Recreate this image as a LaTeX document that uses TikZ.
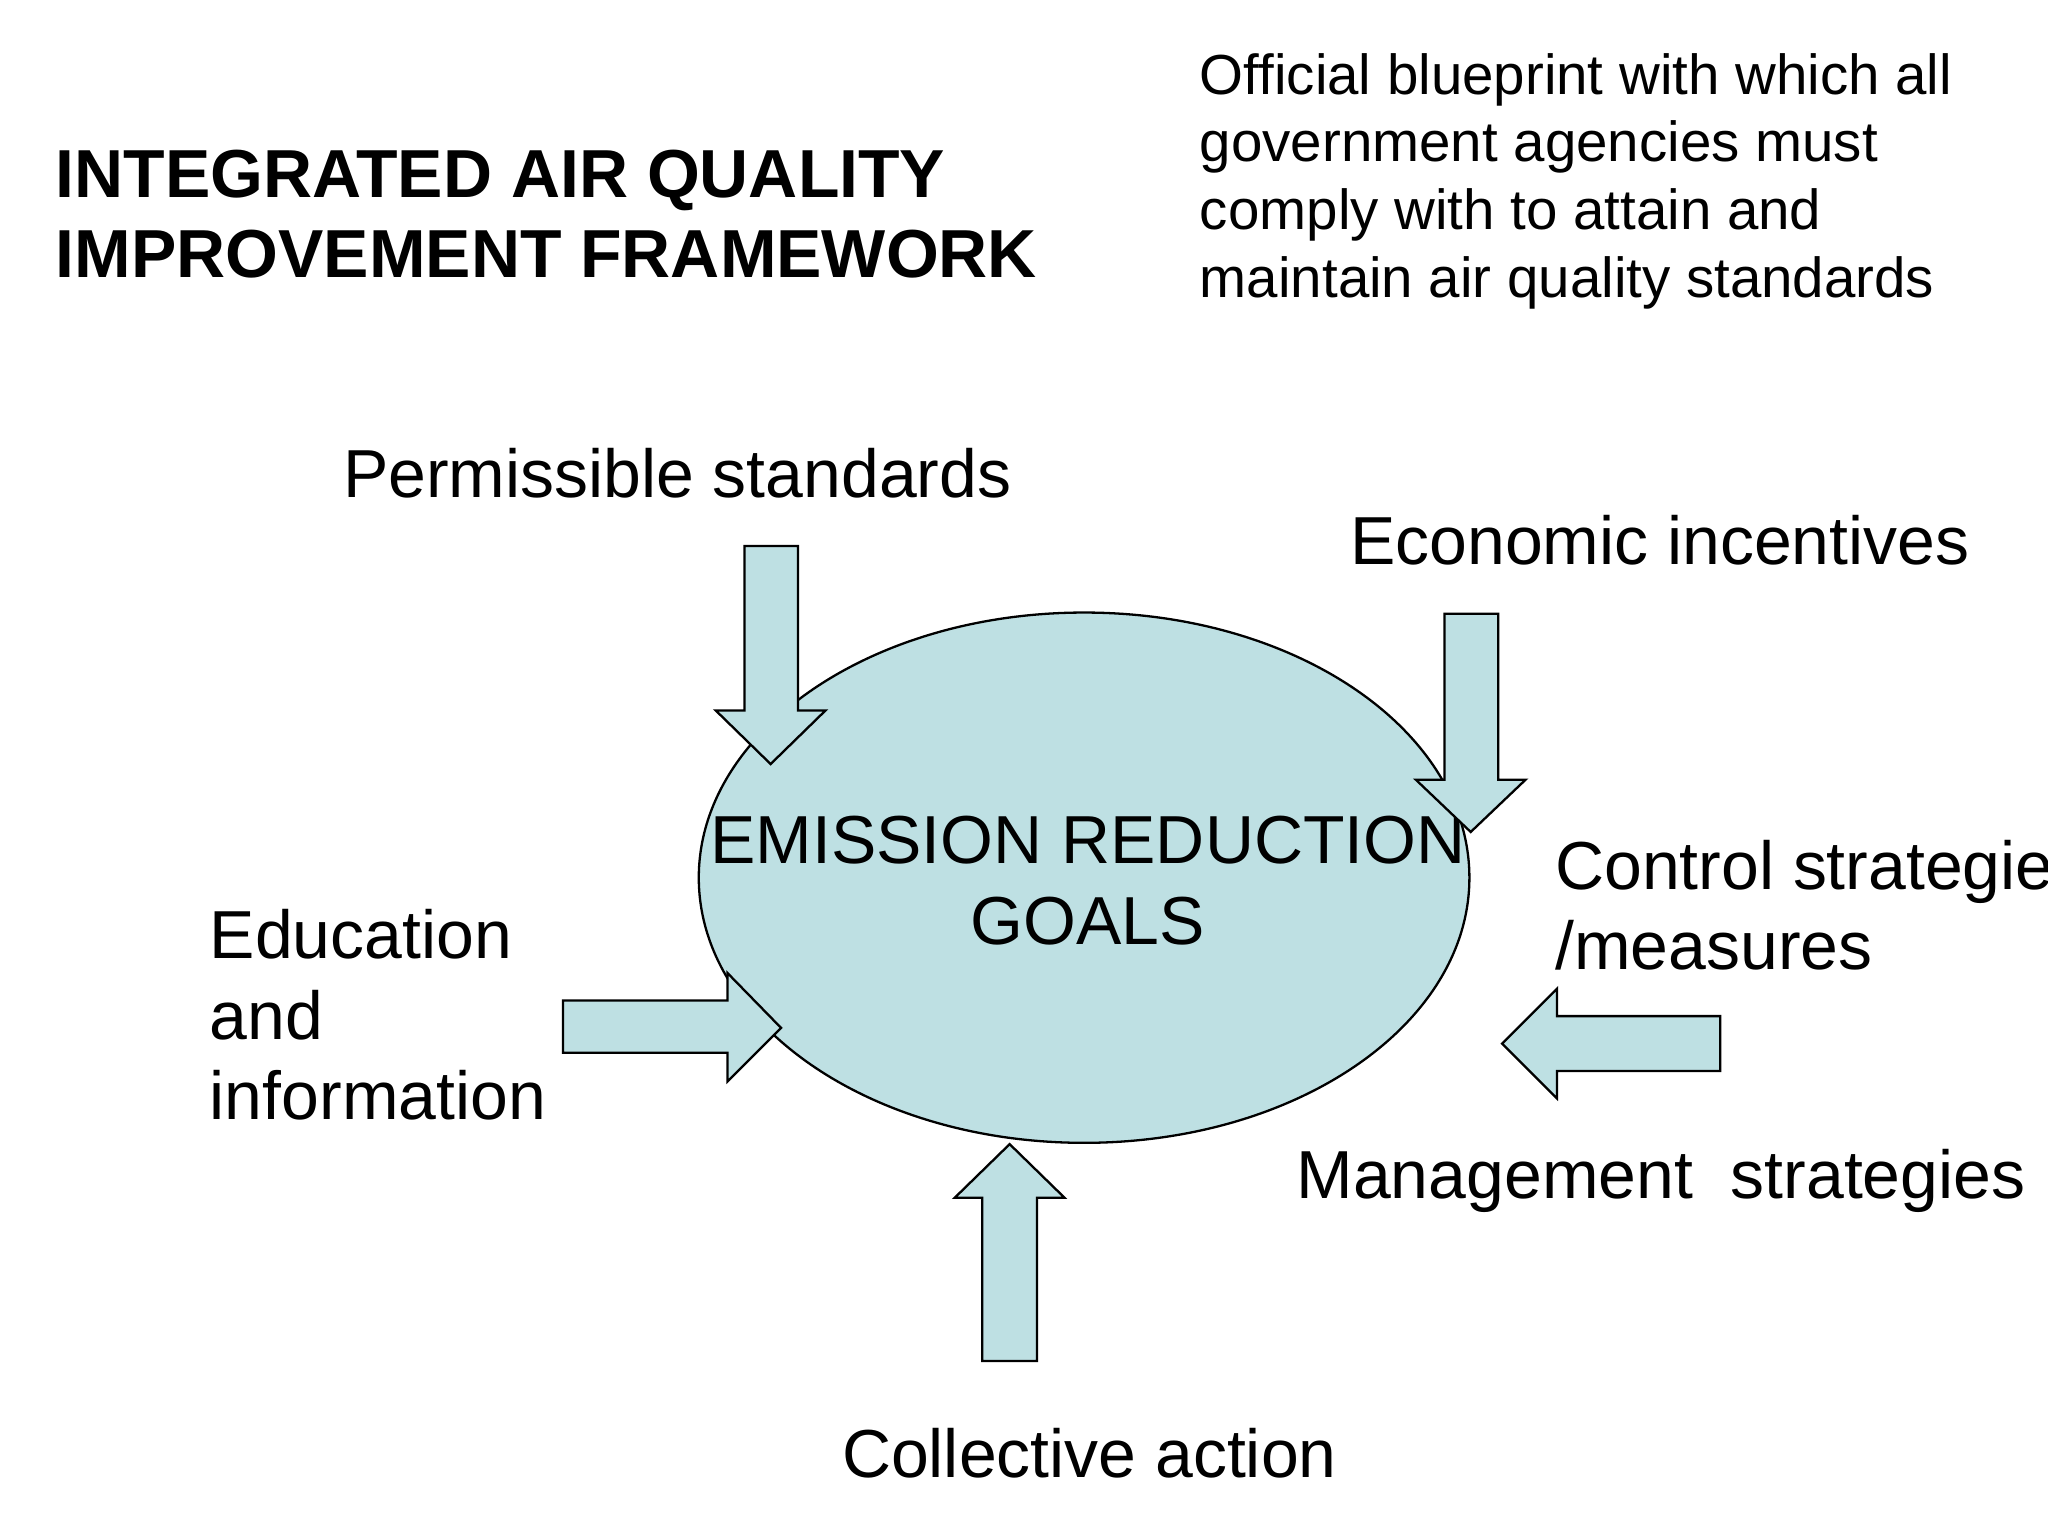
\documentclass[tikz,border=0pt]{standalone}
\usepackage{fontspec}
\setmainfont{Liberation Sans}
\usetikzlibrary{shapes.geometric}
\begin{document}
\begin{tikzpicture}[x=1cm,y=1cm,
  blk/.style={draw=black,fill=ac,line width=0.5pt},
  lbl/.style={anchor=west,font=\fontsize{14.8pt}{17.6pt}\selectfont,inner sep=0pt},
  lbl2/.style={lbl,align=left}]
\definecolor{ac}{RGB}{190,224,227}
\useasboundingbox (0,0) rectangle (15.68,11.76);
\clip (0,0) rectangle (15.68,11.76);
% title
\node[anchor=west,align=left,inner sep=0pt,font=\bfseries\fontsize{14.8pt}{17.6pt}\selectfont] (title) at (0.42,10.12) {INTEGRATED AIR QUALITY\\IMPROVEMENT FRAMEWORK};
\node[anchor=north west,align=left,inner sep=0pt,font=\fontsize{12.3pt}{14.8pt}\selectfont] (blue) at (9.18,11.36) {Official blueprint with which all\\government agencies must\\comply with to attain and\\maintain air quality standards};
% ellipse
\node[draw,fill=ac,ellipse,minimum width=5.9cm,minimum height=4.06cm,inner sep=0pt,line width=0.5pt] (goal) at (8.3,5.04) {};
\node[align=center,font=\fontsize{14.8pt}{17.6pt}\selectfont] (gt) at (8.33,5.02) {EMISSION REDUCTION\\GOALS};
% arrows
\draw[blk] (5.70,7.58) -- (6.11,7.58) -- (6.11,6.32) -- (6.32,6.32) -- (5.90,5.91) -- (5.48,6.32) -- (5.70,6.32) -- cycle;
\draw[blk] (11.06,7.06) -- (11.47,7.06) -- (11.47,5.79) -- (11.68,5.79) -- (11.26,5.39) -- (10.84,5.79) -- (11.06,5.79) -- cycle;
\draw[blk] (4.31,4.10) -- (4.31,3.70) -- (5.57,3.70) -- (5.57,3.48) -- (5.98,3.89) -- (5.57,4.31) -- (5.57,4.10) -- cycle;
\draw[blk] (13.17,3.98) -- (13.17,3.56) -- (11.92,3.56) -- (11.92,3.35) -- (11.50,3.77) -- (11.92,4.19) -- (11.92,3.98) -- cycle;
\draw[blk] (7.52,1.34) -- (7.94,1.34) -- (7.94,2.59) -- (8.15,2.59) -- (7.73,3.00) -- (7.31,2.59) -- (7.52,2.59) -- cycle;
% labels
\node[lbl] (ps) at (2.62,8.14) {Permissible standards};
\node[lbl] (ei) at (10.33,7.62) {Economic incentives};
\node[lbl2] (cs) at (11.90,4.83) {Control strategies\\/measures};
\node[lbl2] (ed) at (1.60,3.99) {Education\\and\\information};
\node[lbl] (ms) at (9.92,2.72) {Management\ \ strategies};
\node[lbl] (ca) at (6.44,0.63) {Collective action};
\end{tikzpicture}
\end{document}
